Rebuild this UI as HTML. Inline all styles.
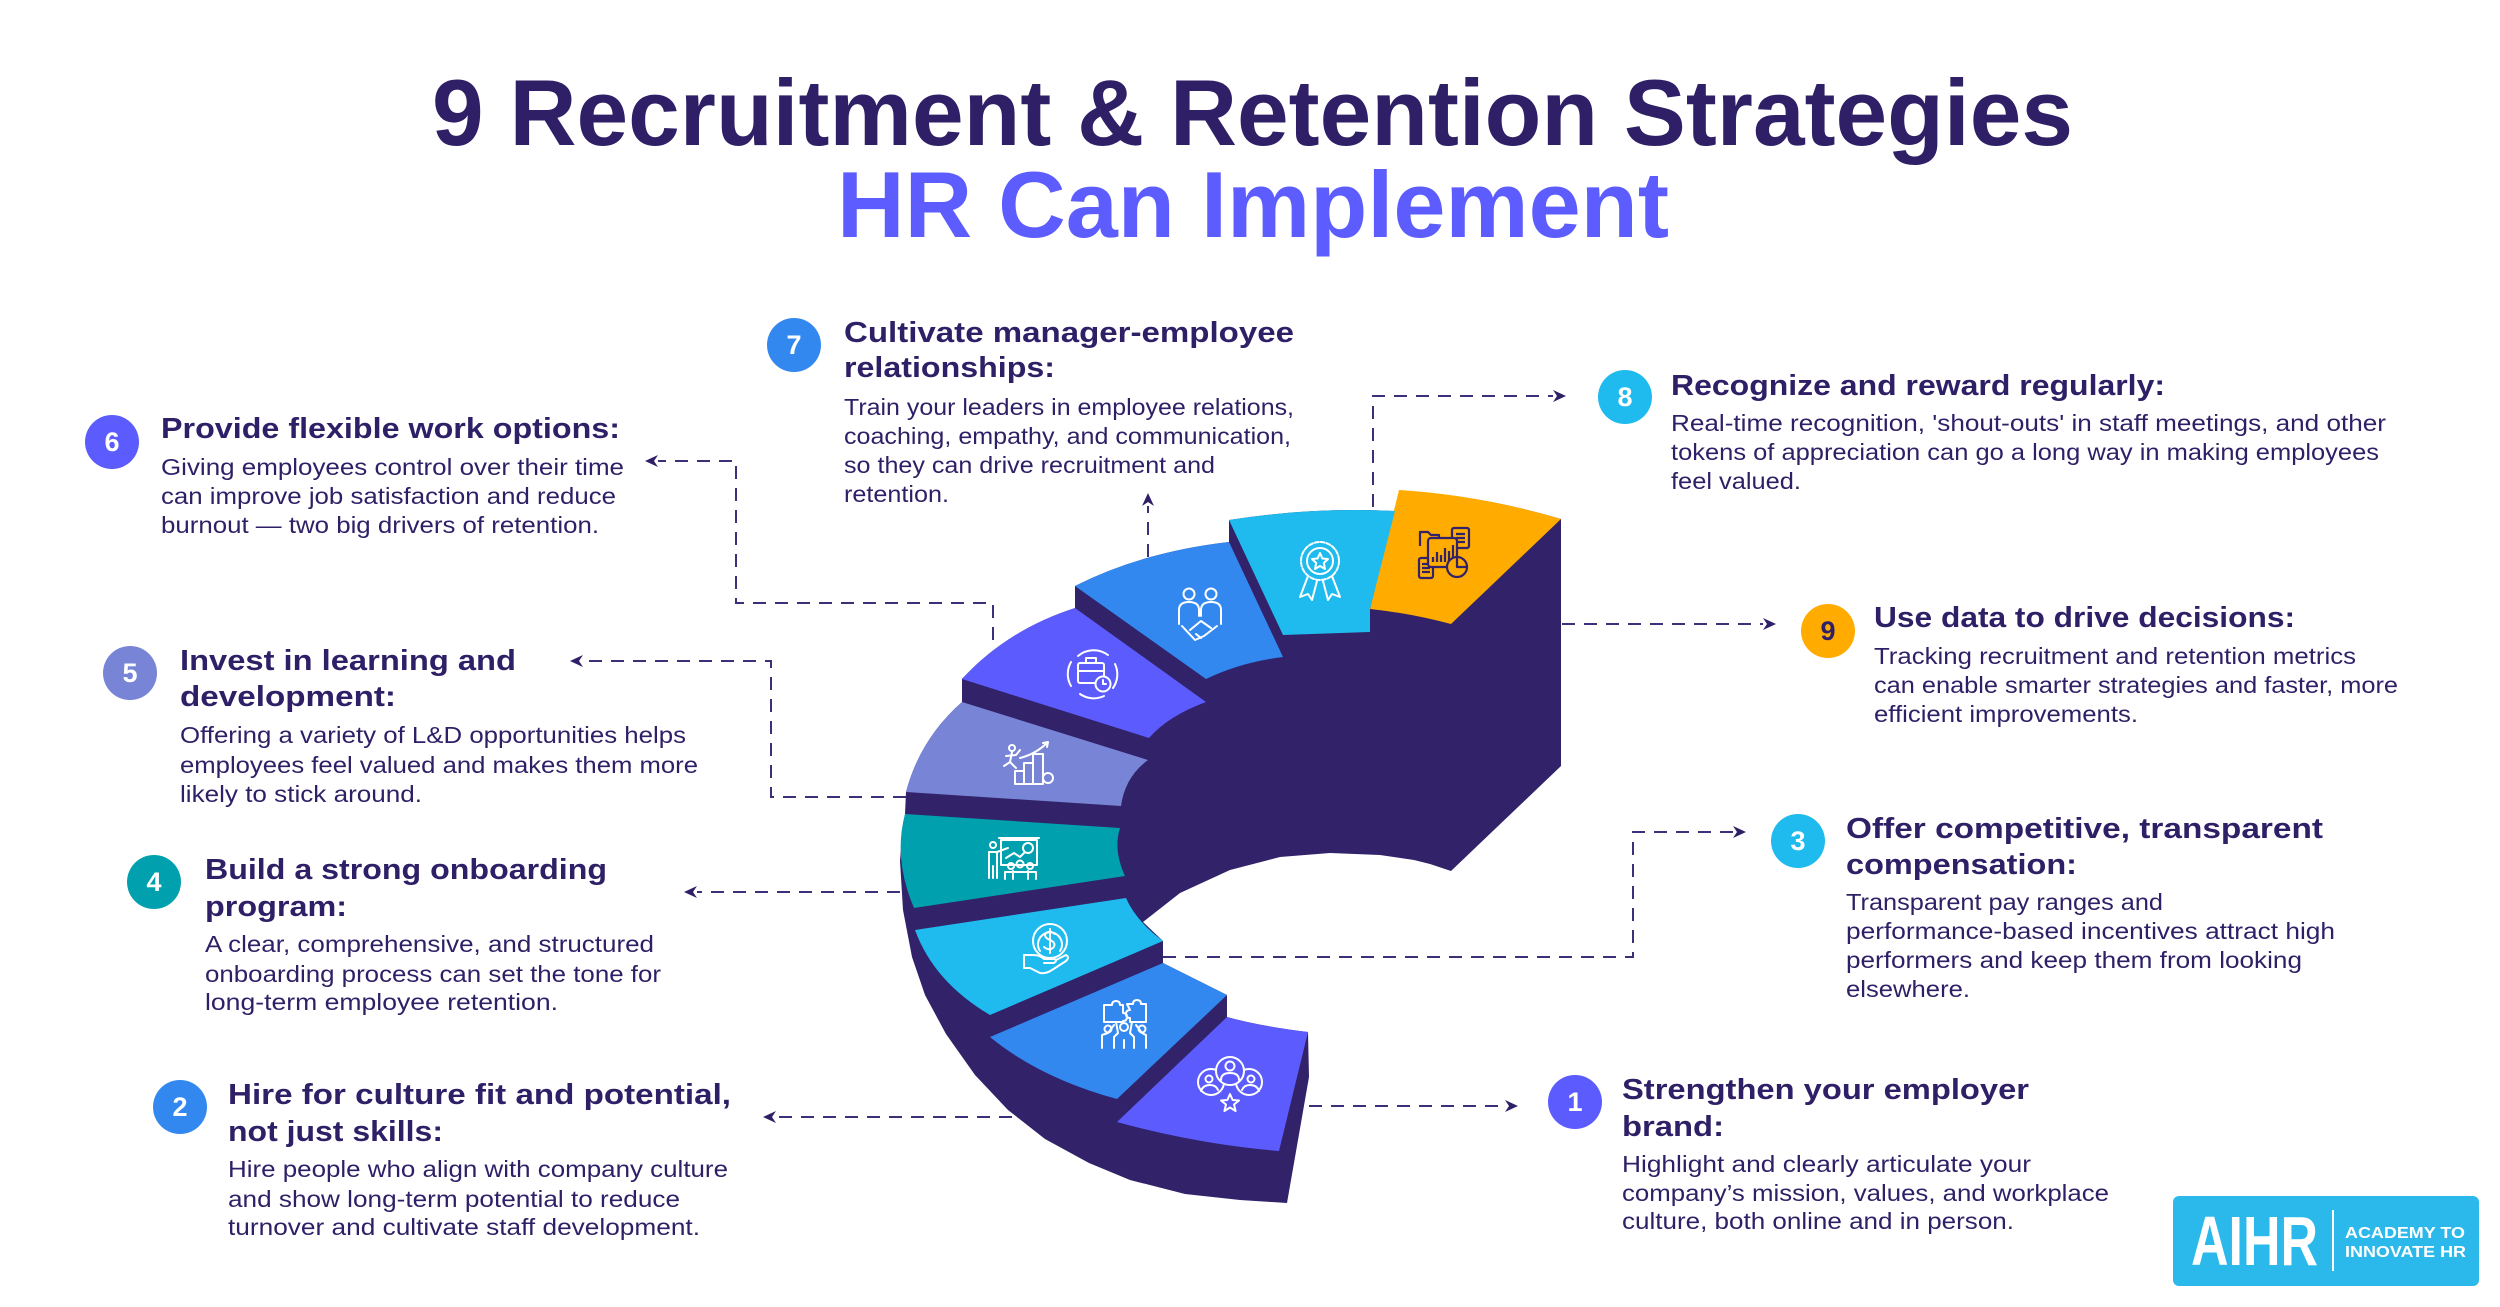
<!DOCTYPE html>
<html><head><meta charset="utf-8"><style>
html,body{margin:0;padding:0;background:#fff;}
svg{display:block;}
.h{font-family:"Liberation Sans",sans-serif;font-weight:700;font-size:29px;fill:#2e1f66;}
.b{font-family:"Liberation Sans",sans-serif;font-size:23px;fill:#2e1f66;}
.n{font-family:"Liberation Sans",sans-serif;font-weight:700;font-size:27px;fill:#fff;text-anchor:middle;}
.d{fill:none;stroke:#3d2f7a;stroke-width:2;stroke-dasharray:13 9;}
.ic{fill:none;stroke:#fff;stroke-width:2;stroke-linecap:round;stroke-linejoin:round;}
</style></head><body>
<svg width="2500" height="1307" viewBox="0 0 2500 1307" xmlns="http://www.w3.org/2000/svg">
<rect width="2500" height="1307" fill="#fff"/>
<!-- Title -->
<text x="432" y="145" font-family="Liberation Sans, sans-serif" font-weight="700" font-size="94" fill="#2e1f66" textLength="1641" lengthAdjust="spacingAndGlyphs">9 Recruitment &amp; Retention Strategies</text>
<text x="837" y="237" font-family="Liberation Sans, sans-serif" font-weight="700" font-size="94" fill="#5c5cff" textLength="832" lengthAdjust="spacingAndGlyphs">HR Can Implement</text>

<!-- Donut dark body -->
<path fill="#312269" d="M1400,491 Q1480,495 1561,519 L1561,766 L1451,871 L1430,864 L1414,860 L1380,855 L1330,853 L1280,857 L1230,870 L1180,893 L1143,922 L1163,941 L1163,963 Q1191,977 1227,995 L1227,1017 Q1259,1026 1308,1032 L1309,1077 L1287,1203 L1240,1200 L1185,1194 L1130,1180 L1089,1163 L1045,1139 L1008,1110 L975,1075 L946,1034 L925,995 L912,957 L903,910 L900,861 L902,835 L905,814 L906,792 Q920,739 962,702 L962,679 Q1007,630 1075,608 L1075,586 Q1142,552 1229,542 L1229,520 Q1311,507 1394,511 Z"/>
<!-- faces -->
<path fill="#ffab00" d="M1399,490 Q1480,495 1561,519 L1451,624 Q1409,613 1370,609 Z"/>
<path fill="#1fbbee" d="M1229,520 Q1311,507 1395,511 L1370,609 L1370,632 L1283,635 Z"/>
<path fill="#3388f0" d="M1075,586 Q1142,552 1229,542 L1283,657 Q1241,662 1206,679 Z"/>
<path fill="#5c5cfe" d="M962,679 Q1007,630 1075,608 L1206,702 Q1168,716 1149,738 Z"/>
<path fill="#7884d6" d="M906,792 Q920,739 962,702 L1148,760 Q1125,777 1121,806 Z"/>
<path fill="#00a0ae" d="M905,814 L1120,828 Q1113,850 1125,876 L914,908 Q893,859 905,814 Z"/>
<path fill="#1fbbee" d="M915,930 L1126,898 Q1136,921 1163,941 L990,1015 Q934,982 915,930 Z"/>
<path fill="#3388f0" d="M990,1037 L1163,963 Q1191,977 1227,995 L1117,1099 Q1040,1078 990,1037 Z"/>
<path fill="#5c5cfe" d="M1117,1122 L1227,1017 Q1259,1026 1308,1032 L1279,1151 Q1196,1144 1117,1122 Z"/>

<!-- Icons -->
<!-- 9 data -->
<g fill="none" stroke="#312269" stroke-width="2.2" stroke-linejoin="round">
<path d="M1420,546 V532 H1428 L1431,535 H1439 V546"/>
<rect x="1452" y="528" width="17" height="20" rx="2"/>
<path d="M1456,534 H1465 M1456,538 H1465 M1456,542 H1465"/>
<rect x="1419" y="558" width="14" height="20" rx="2"/>
<path d="M1422,564 H1430 M1422,568 H1430 M1422,572 H1430"/>
<rect x="1428" y="538" width="29" height="29" rx="3" fill="#ffab00"/>
<path d="M1433,562 V557 M1437,562 V552 M1441,562 V555 M1445,562 V548 M1449,562 V551 M1453,562 V545"/>
<circle cx="1457" cy="567" r="10" fill="#ffab00"/>
<path d="M1457,557 V567 H1467"/>
</g>
<!-- 8 award -->
<g class="ic">
<circle cx="1320" cy="561" r="19" stroke-dasharray="4 2"/>
<circle cx="1320" cy="561" r="13"/>
<polygon points="1320,553 1322.4,558.5 1328,559 1323.8,563 1325,569 1320,566 1315,569 1316.2,563 1312,559 1317.6,558.5"/>
<path d="M1308,576 L1300,597 L1308,594 L1312,600 L1317,581 M1332,576 L1340,597 L1332,594 L1328,600 L1323,581"/>
</g>
<!-- 7 handshake -->
<g class="ic">
<circle cx="1189" cy="594" r="5.5"/><circle cx="1211" cy="594" r="5.5"/>
<path d="M1179,624 V610 Q1179,602 1189,602 Q1199,602 1199,610 V616"/>
<path d="M1201,616 V610 Q1201,602 1211,602 Q1221,602 1221,610 V624"/>
<path d="M1182,626 L1195,640 L1204,636 L1217,626 M1190,630 L1201,621 L1211,628 M1196,634 L1201,638"/>
</g>
<!-- 6 briefcase -->
<g class="ic">
<path d="M1078,656 A24,24 0 0 1 1108,655 M1115,664 A24,24 0 0 1 1113,688 M1104,696 A24,24 0 0 1 1080,694 M1071,686 A24,24 0 0 1 1071,662"/>
<rect x="1078" y="663" width="26" height="20" rx="2"/>
<rect x="1086" y="658" width="10" height="5"/>
<path d="M1078,671 H1104"/>
<circle cx="1103" cy="684" r="7.5" fill="#5c5cfe"/>
<path d="M1103,680 V684 H1106"/>
</g>
<!-- 5 stairs -->
<g class="ic">
<rect x="1015" y="771" width="9" height="13"/><rect x="1024" y="763" width="9" height="21"/><rect x="1033" y="754" width="10" height="30"/>
<circle cx="1012" cy="748" r="3"/>
<path d="M1012,752 L1010,762 L1004,766 M1010,762 L1016,768 M1006,756 L1016,755 L1020,750"/>
<path d="M1020,758 Q1036,754 1048,742 M1043,743 L1048,742 L1047,747"/>
<circle cx="1048" cy="778" r="5"/>
</g>
<!-- 4 presentation -->
<g class="ic">
<rect x="1001" y="840" width="36" height="25"/>
<path d="M999,838 H1039"/>
<circle cx="993" cy="845" r="3"/>
<path d="M989,878 V852 H997 L1008,848 M997,852 V878 M993,866 V878"/>
<circle cx="1028" cy="848" r="5"/>
<path d="M1006,858 L1014,853 L1020,857 L1024,853"/>
<circle cx="1011" cy="866" r="3"/><circle cx="1020" cy="864" r="3.5"/><circle cx="1030" cy="866" r="3"/>
<path d="M1005,879 V872 H1036 V879 M1013,879 V871 M1028,879 V871"/>
</g>
<!-- 3 dollar -->
<g class="ic">
<circle cx="1050" cy="941" r="17"/>
<path d="M1040,951 A12,12 0 1 1 1060,951"/>
<path d="M1055,934 Q1050,930 1046,933 Q1043,937 1050,940 Q1057,943 1053,948 Q1049,951 1044,947 M1050,929 V953"/>
<path d="M1024,955 H1033 Q1040,955 1044,959 H1054 Q1058,960 1054,963 H1044 M1024,955 V968 H1030 L1040,973 Q1046,974 1052,970 L1066,961 Q1070,957 1066,955 L1056,960"/>
</g>
<!-- 2 puzzle -->
<g class="ic">
<path d="M1104,1005 H1112 Q1112,1001 1116,1001 Q1120,1001 1120,1005 H1123 V1013 Q1127,1013 1127,1017 Q1127,1021 1123,1021 V1022 H1104 Z"/>
<path d="M1127,1004 H1133 Q1133,1000 1137,1000 Q1141,1000 1141,1004 H1146 V1022 H1130 V1018 Q1126,1018 1126,1014 Q1126,1010 1130,1010 Z"/>
<circle cx="1108" cy="1029" r="3.5"/><circle cx="1124" cy="1027" r="4"/><circle cx="1142" cy="1029" r="3.5"/>
<path d="M1102,1048 V1035 L1108,1033 L1114,1025 M1114,1048 V1037 L1118,1033 L1116,1022 M1124,1048 V1040 M1134,1048 V1037 L1130,1033 L1132,1022 M1146,1048 V1035 L1142,1033 L1136,1025"/>
</g>
<!-- 1 people -->
<g class="ic">
<circle cx="1211" cy="1082" r="13"/><circle cx="1249" cy="1082" r="13"/>
<circle cx="1230" cy="1071" r="14" fill="#5c5cfe"/>
<circle cx="1230" cy="1066" r="4.5"/><path d="M1221,1080 Q1221,1073 1230,1073 Q1239,1073 1239,1080"/>
<circle cx="1209" cy="1079" r="3.5"/><path d="M1201,1091 Q1203,1085 1210,1085 Q1216,1085 1218,1090"/>
<circle cx="1251" cy="1079" r="3.5"/><path d="M1242,1090 Q1244,1085 1250,1085 Q1257,1085 1259,1091"/>
<polygon points="1230,1094 1232.6,1100 1239,1100.5 1234,1104.5 1235.6,1111 1230,1107.5 1224.4,1111 1226,1104.5 1221,1100.5 1227.4,1100"/>
</g>

<!-- Dashed connectors -->
<path class="d" d="M993,640 V603 H736 V461 H658"/>
<path class="d" d="M906,797 H771 V661 H583"/>
<path class="d" d="M900,892 H697"/>
<path class="d" d="M1012,1117 H776"/>
<path class="d" d="M1148,557 V506"/>
<path class="d" d="M1373,507 V396 H1553"/>
<path class="d" d="M1562,624 H1763"/>
<path class="d" d="M1163,957 H1633 V832 H1733"/>
<path class="d" d="M1309,1106 H1505"/>
<g fill="#2e1f66">
<polygon points="645,461 658,455 654,461 658,467"/>
<polygon points="570,661 583,655 579,661 583,667"/>
<polygon points="684,892 697,886 693,892 697,898"/>
<polygon points="763,1117 776,1111 772,1117 776,1123"/>
<polygon points="1148,493 1154,506 1148,502 1142,506"/>
<polygon points="1566,396 1553,390 1557,396 1553,402"/>
<polygon points="1776,624 1763,618 1767,624 1763,630"/>
<polygon points="1746,832 1733,826 1737,832 1733,838"/>
<polygon points="1518,1106 1505,1100 1509,1106 1505,1112"/>
</g>

<!-- Number circles -->
<circle cx="794" cy="345" r="27" fill="#3388f0"/><text class="n" x="794" y="354">7</text>
<circle cx="112" cy="442" r="27" fill="#5c5cfe"/><text class="n" x="112" y="451">6</text>
<circle cx="1625" cy="397" r="27" fill="#1fbbee"/><text class="n" x="1625" y="406">8</text>
<circle cx="130" cy="673" r="27" fill="#7884d6"/><text class="n" x="130" y="682">5</text>
<circle cx="1828" cy="631" r="27" fill="#ffab00"/><text class="n" x="1828" y="640" style="fill:#2e1f66">9</text>
<circle cx="154" cy="882" r="27" fill="#00a0ae"/><text class="n" x="154" y="891">4</text>
<circle cx="1798" cy="841" r="27" fill="#1fbbee"/><text class="n" x="1798" y="850">3</text>
<circle cx="180" cy="1107" r="27" fill="#3388f0"/><text class="n" x="180" y="1116">2</text>
<circle cx="1575" cy="1102" r="27" fill="#5c5cfe"/><text class="n" x="1575" y="1111">1</text>

<!-- Block 7 -->
<text class="h" x="844" y="342" textLength="450" lengthAdjust="spacingAndGlyphs">Cultivate manager-employee</text>
<text class="h" x="844" y="377" textLength="211" lengthAdjust="spacingAndGlyphs">relationships:</text>
<text class="b" x="844" y="415" textLength="450" lengthAdjust="spacingAndGlyphs">Train your leaders in employee relations,</text>
<text class="b" x="844" y="444" textLength="447" lengthAdjust="spacingAndGlyphs">coaching, empathy, and communication,</text>
<text class="b" x="844" y="473" textLength="371" lengthAdjust="spacingAndGlyphs">so they can drive recruitment and</text>
<text class="b" x="844" y="502" textLength="105" lengthAdjust="spacingAndGlyphs">retention.</text>

<!-- Block 6 -->
<text class="h" x="161" y="438" textLength="459" lengthAdjust="spacingAndGlyphs">Provide flexible work options:</text>
<text class="b" x="161" y="475" textLength="463" lengthAdjust="spacingAndGlyphs">Giving employees control over their time</text>
<text class="b" x="161" y="504" textLength="455" lengthAdjust="spacingAndGlyphs">can improve job satisfaction and reduce</text>
<text class="b" x="161" y="533" textLength="438" lengthAdjust="spacingAndGlyphs">burnout — two big drivers of retention.</text>

<!-- Block 5 -->
<text class="h" x="180" y="670" textLength="336" lengthAdjust="spacingAndGlyphs">Invest in learning and</text>
<text class="h" x="180" y="706" textLength="216" lengthAdjust="spacingAndGlyphs">development:</text>
<text class="b" x="180" y="743" textLength="506" lengthAdjust="spacingAndGlyphs">Offering a variety of L&amp;D opportunities helps</text>
<text class="b" x="180" y="773" textLength="518" lengthAdjust="spacingAndGlyphs">employees feel valued and makes them more</text>
<text class="b" x="180" y="802" textLength="242" lengthAdjust="spacingAndGlyphs">likely to stick around.</text>

<!-- Block 8 -->
<text class="h" x="1671" y="395" textLength="494" lengthAdjust="spacingAndGlyphs">Recognize and reward regularly:</text>
<text class="b" x="1671" y="431" textLength="715" lengthAdjust="spacingAndGlyphs">Real-time recognition, 'shout-outs' in staff meetings, and other</text>
<text class="b" x="1671" y="460" textLength="708" lengthAdjust="spacingAndGlyphs">tokens of appreciation can go a long way in making employees</text>
<text class="b" x="1671" y="489" textLength="130" lengthAdjust="spacingAndGlyphs">feel valued.</text>

<!-- Block 9 -->
<text class="h" x="1874" y="627" textLength="421" lengthAdjust="spacingAndGlyphs">Use data to drive decisions:</text>
<text class="b" x="1874" y="664" textLength="482" lengthAdjust="spacingAndGlyphs">Tracking recruitment and retention metrics</text>
<text class="b" x="1874" y="693" textLength="524" lengthAdjust="spacingAndGlyphs">can enable smarter strategies and faster, more</text>
<text class="b" x="1874" y="722" textLength="264" lengthAdjust="spacingAndGlyphs">efficient improvements.</text>

<!-- Block 4 -->
<text class="h" x="205" y="879" textLength="402" lengthAdjust="spacingAndGlyphs">Build a strong onboarding</text>
<text class="h" x="205" y="916" textLength="142" lengthAdjust="spacingAndGlyphs">program:</text>
<text class="b" x="205" y="952" textLength="449" lengthAdjust="spacingAndGlyphs">A clear, comprehensive, and structured</text>
<text class="b" x="205" y="982" textLength="456" lengthAdjust="spacingAndGlyphs">onboarding process can set the tone for</text>
<text class="b" x="205" y="1010" textLength="353" lengthAdjust="spacingAndGlyphs">long-term employee retention.</text>

<!-- Block 2 -->
<text class="h" x="228" y="1104" textLength="503" lengthAdjust="spacingAndGlyphs">Hire for culture fit and potential,</text>
<text class="h" x="228" y="1141" textLength="215" lengthAdjust="spacingAndGlyphs">not just skills:</text>
<text class="b" x="228" y="1177" textLength="500" lengthAdjust="spacingAndGlyphs">Hire people who align with company culture</text>
<text class="b" x="228" y="1207" textLength="452" lengthAdjust="spacingAndGlyphs">and show long-term potential to reduce</text>
<text class="b" x="228" y="1235" textLength="472" lengthAdjust="spacingAndGlyphs">turnover and cultivate staff development.</text>

<!-- Block 3 -->
<text class="h" x="1846" y="838" textLength="477" lengthAdjust="spacingAndGlyphs">Offer competitive, transparent</text>
<text class="h" x="1846" y="874" textLength="231" lengthAdjust="spacingAndGlyphs">compensation:</text>
<text class="b" x="1846" y="910" textLength="317" lengthAdjust="spacingAndGlyphs">Transparent pay ranges and</text>
<text class="b" x="1846" y="939" textLength="489" lengthAdjust="spacingAndGlyphs">performance-based incentives attract high</text>
<text class="b" x="1846" y="968" textLength="456" lengthAdjust="spacingAndGlyphs">performers and keep them from looking</text>
<text class="b" x="1846" y="997" textLength="124" lengthAdjust="spacingAndGlyphs">elsewhere.</text>

<!-- Block 1 -->
<text class="h" x="1622" y="1099" textLength="407" lengthAdjust="spacingAndGlyphs">Strengthen your employer</text>
<text class="h" x="1622" y="1136" textLength="102" lengthAdjust="spacingAndGlyphs">brand:</text>
<text class="b" x="1622" y="1172" textLength="409" lengthAdjust="spacingAndGlyphs">Highlight and clearly articulate your</text>
<text class="b" x="1622" y="1201" textLength="487" lengthAdjust="spacingAndGlyphs">company’s mission, values, and workplace</text>
<text class="b" x="1622" y="1229" textLength="392" lengthAdjust="spacingAndGlyphs">culture, both online and in person.</text>

<!-- AIHR logo -->
<rect x="2173" y="1196" width="306" height="90" rx="6" fill="#2bb8ea"/>
<text x="2191" y="1265" font-family="Liberation Sans, sans-serif" font-weight="700" font-size="70" fill="#fff" textLength="127" lengthAdjust="spacingAndGlyphs">AIHR</text>
<rect x="2332" y="1210" width="2" height="61" fill="#fff"/>
<text x="2345" y="1238" font-family="Liberation Sans, sans-serif" font-weight="700" font-size="16" fill="#fff" textLength="120" lengthAdjust="spacingAndGlyphs">ACADEMY TO</text>
<text x="2345" y="1257" font-family="Liberation Sans, sans-serif" font-weight="700" font-size="16" fill="#fff" textLength="121" lengthAdjust="spacingAndGlyphs">INNOVATE HR</text>
</svg>
</body></html>
